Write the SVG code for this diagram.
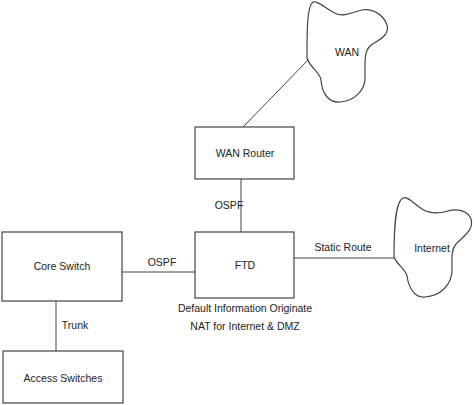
<svg xmlns="http://www.w3.org/2000/svg" width="474" height="405" viewBox="0 0 474 405">
<style>
.box{fill:#fff;stroke:#444;stroke-width:1.2}
.cloud{fill:#fff;stroke:#444;stroke-width:1.2}
.ln{stroke:#444;stroke-width:1;fill:none}
text{font-family:"Liberation Sans",Arial,sans-serif;font-size:10.5px;fill:#222;text-anchor:middle;dominant-baseline:central}
</style>
<rect width="474" height="405" fill="#fff"/>
<g id="connectors">
<line class="ln" x1="243" y1="127" x2="310" y2="58"/>
<line class="ln" x1="241" y1="179" x2="241" y2="232"/>
<line class="ln" x1="122" y1="272" x2="195" y2="272"/>
<line class="ln" x1="294" y1="258" x2="395" y2="258"/>
<line class="ln" x1="56" y1="301" x2="56" y2="351"/>
<text x="229" y="205">OSPF</text>
<text x="162" y="262">OSPF</text>
<text x="343" y="247">Static Route</text>
<text x="75" y="325">Trunk</text>
</g>
<g id="wan">
<path class="cloud" d="M313,2 C307,6 307,30 307,58 C310,68 320,72 321,80 C322,95 330,103 340,102 C355,101 365,90 365,78 C365,62 364,52 370,46 C378,40 390,36 387,25 C384,16 374,8 362,10 C352,12 345,17 337,14 C327,10 318,0 313,2 Z"/>
<text x="347" y="52">WAN</text>
</g>
<g id="internet">
<path class="cloud" d="M403,198 C395,202 394,230 394,257 C397,265 405,268 407,276 C409,290 416,298 425,297 C440,296 452,285 452,270 C452,258 451,250 456,244 C464,236 474,230 471,219 C468,211 458,208 448,211 C438,214 430,214 422,209 C414,204 408,196 403,198 Z"/>
<text x="432" y="248">Internet</text>
</g>
<g id="wan-router">
<rect class="box" x="195" y="127" width="99" height="52"/>
<text x="245" y="153">WAN Router</text>
</g>
<g id="ftd">
<rect class="box" x="195" y="232" width="99" height="66"/>
<text x="245" y="265">FTD</text>
<text x="245" y="308">Default Information Originate</text>
<text x="245" y="326">NAT for Internet &amp; DMZ</text>
</g>
<g id="core-switch">
<rect class="box" x="2" y="232" width="120" height="69"/>
<text x="62" y="266">Core Switch</text>
</g>
<g id="access-switches">
<rect class="box" x="3" y="351" width="120" height="52"/>
<text x="63" y="378">Access Switches</text>
</g>
</svg>
